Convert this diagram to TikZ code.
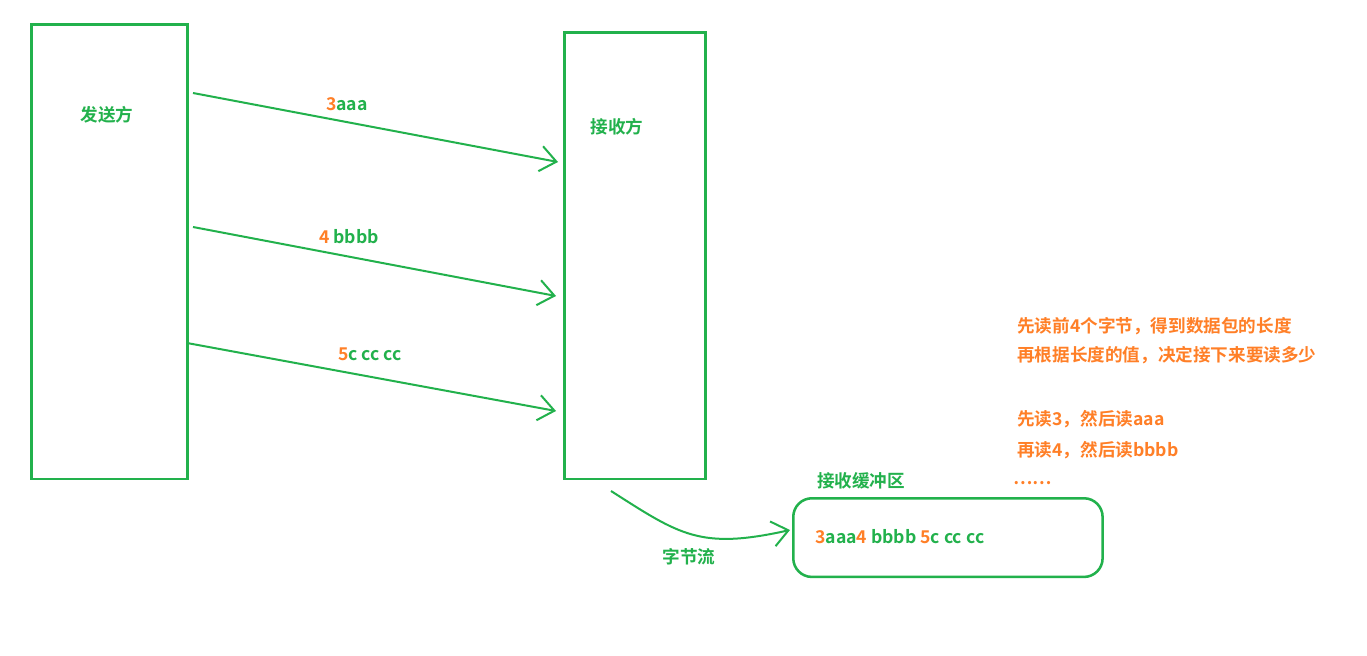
\documentclass[tikz,border=0pt]{standalone}
\usepackage{fontspec}
\newfontfamily\cjk{Noto Sans CJK SC Bold}
\usetikzlibrary{arrows.meta}
\definecolor{pg}{HTML}{22B14C}
\definecolor{po}{HTML}{FF7F27}
\begin{document}
\begin{tikzpicture}[x=0.75pt,y=-0.75pt,
  box/.style={draw=pg,line width=1.9pt},
  lbl/.style={text=pg,font=\cjk\fontsize{13.2}{15}\selectfont,inner sep=0pt},
  olbl/.style={text=po,font=\cjk\fontsize{13.2}{15}\selectfont,inner sep=0pt,anchor=west},
  conn/.style={draw=pg,line width=1.5pt,-{Straight Barb[length=12pt,width=19pt,line width=1.5pt]}}]
\useasboundingbox (0,0) rectangle (1367,656);
\fill[white] (0,0) rectangle (1367,656);
\node[box,minimum width=117pt,minimum height=341pt,anchor=north west,inner sep=0pt] (snd) at (30,23) {};
\node[box,minimum width=106pt,minimum height=335pt,anchor=north west,inner sep=0pt] (rcv) at (563,31) {};
\node[lbl] (sl) at (107,115) {发送方};
\node[lbl] (rl) at (617,127) {接收方};
\coordinate (a1) at (193,93); \coordinate (b1) at (558,162);
\coordinate (a2) at (193,227); \coordinate (b2) at (556,296);
\coordinate (a3) at (187,343); \coordinate (b3) at (556,411);
\draw[conn] (a1) -- (b1);
\draw[conn] (a2) -- (b2);
\draw[conn] (a3) -- (b3);
\node[lbl] (l1) at (347,104) {\textcolor{po}{3}aaa};
\node[lbl] (l2) at (349,237) {\textcolor{po}{4} bbbb};
\node[lbl] (l3) at (370,354) {\textcolor{po}{5}c cc cc};
\node[box,rounded corners=14pt,minimum width=232pt,minimum height=59pt,anchor=north west,inner sep=0pt] (buf) at (792,497) {};
\node[lbl] (bl) at (861,481) {接收缓冲区};
\node[lbl,anchor=west] (bt) at (815,537) {\textcolor{po}{3}aaa\textcolor{po}{4} bbbb \textcolor{po}{5}c cc cc};
\coordinate (c0) at (611,491); \coordinate (c1) at (790,530);
\draw[conn] (c0) .. controls (680,535) and (700,550) .. (c1);
\node[lbl] (zj) at (689,557) {字节流};
\node[olbl] (o1) at (1017,326) {先读前4个字节，得到数据包的长度};
\node[olbl] (o2) at (1017,355) {再根据长度的值，决定接下来要读多少};
\node[olbl] (o3) at (1017,419) {先读3，然后读aaa};
\node[olbl] (o4) at (1017,450) {再读4，然后读bbbb};
\node[olbl] (o5) at (1013,483) {……};
\end{tikzpicture}
\end{document}
